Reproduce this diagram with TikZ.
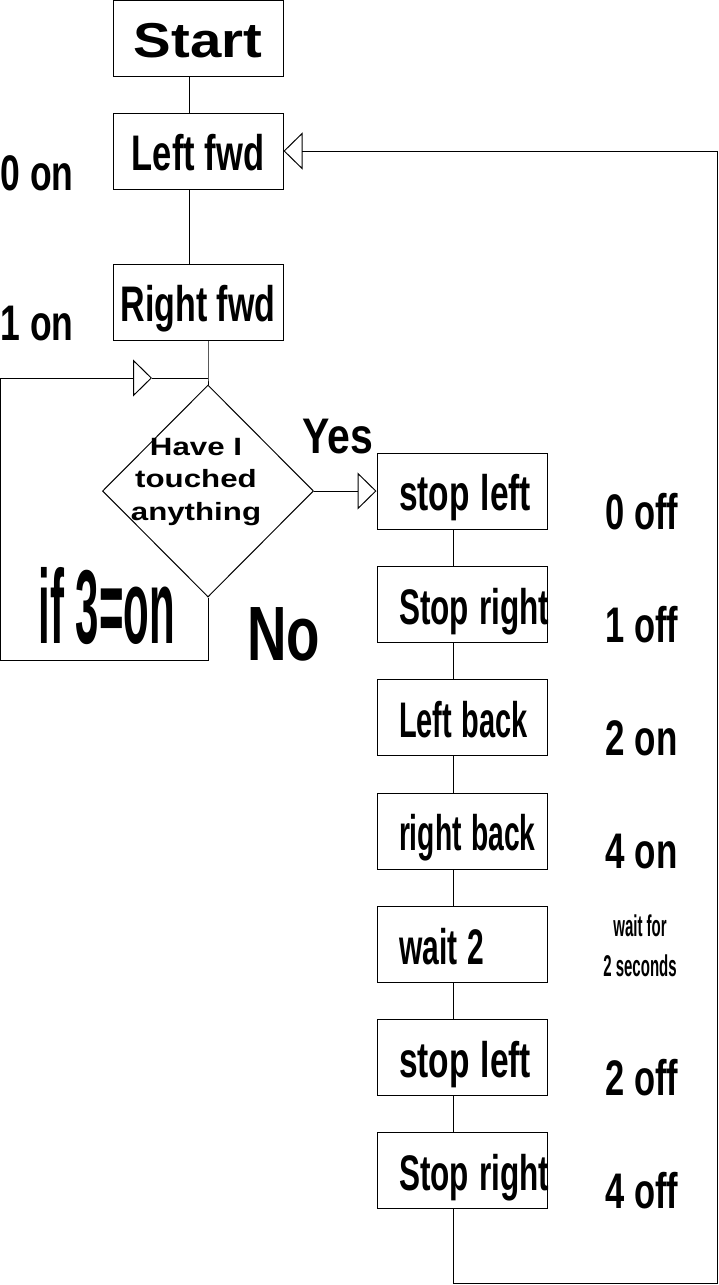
\documentclass[tikz,border=0pt]{standalone}
\usepackage{fontspec}
\setmainfont{Liberation Sans}
\usetikzlibrary{shapes.geometric, arrows.meta}
\newcommand{\narrowtxt}[2][0.69]{\scalebox{#1}[1]{#2}}
\newcommand{\widetxt}[1]{\scalebox{1.25}[1]{#1}}
\begin{document}
\begin{tikzpicture}[x=0.5pt, y=-0.5pt, line width=0.5pt,
	stepbox/.style={rectangle, draw, minimum width=85pt, minimum height=38pt, inner sep=0pt,
		text height=19.5pt, text depth=0pt, font=\fontsize{25}{30}\selectfont\bfseries},
	actbox/.style={stepbox, align=left, text width=63pt, inner xsep=11pt},
	note/.style={anchor=base west, inner sep=0pt, font=\fontsize{25}{30}\selectfont\bfseries},
	flow/.style={-{Triangle[open, length=9.5pt, width=18.5pt]}}]
		\useasboundingbox (0,0) rectangle (718,1285);
		
		\node[stepbox, font=\fontsize{24.5}{29}\selectfont\bfseries, text height=19pt]
		at (198,38.5) (start) {\scalebox{1.15}[1]{Start}};
		\node[stepbox] at (198,151) (lfwd) {\narrowtxt{Left fwd}};
		\node[stepbox] at (198,302) (rfwd) {\narrowtxt[0.68]{Right fwd}\hspace{3pt}};
		\node[note] at (0,190) (on0) {\narrowtxt[0.71]{0 on}};
		\node[note] at (0,340) (on1) {\narrowtxt[0.71]{1 on}};
		
		\draw ([xshift=-4.5pt]start.south) -- ([xshift=-4.5pt]lfwd.north);
		\draw ([xshift=-4.5pt]lfwd.south) -- ([xshift=-4.5pt]rfwd.north);
		
		\node[diamond, draw, minimum width=105.5pt, minimum height=106pt, inner sep=0pt]
		at (208,491) (ask) {};
		\node[align=center, font=\fontsize{12.5}{16.25}\selectfont\bfseries]
		at (196,482) (asktxt) {\widetxt{Have I}\\\widetxt{touched}\\\widetxt{anything}};
		\coordinate (jn) at (208,378);
		\coordinate (loopbr) at (208,660);
		\coordinate (loopbl) at (0.5,660);
		\coordinate (looptl) at (0.5,378);
		\coordinate (looptip) at (152,378);
		
		\draw ([xshift=5pt]rfwd.south) -- (jn) -- (ask.north);
		\draw[flow] (ask.south) -- (loopbr) -- (loopbl) -- (looptl) -- (looptip);
		\draw (looptip) -- (jn);
		
		\node[note] at (302,453) (yes) {\narrowtxt[0.82]{Yes}};
		\node[note, font=\fontsize{38.5}{46}\selectfont\bfseries] at (247,660) (no) {\narrowtxt[0.71]{No}};
		\node[note, font=\fontsize{52.5}{63}\selectfont\bfseries] at (38,643) (cond) {\narrowtxt[0.4]{if 3=on}};
		
		\node[actbox] at (462,491) (sl1) {\narrowtxt[0.67]{stop left}};
		\node[actbox] at (462,604.5) (sr1) {\narrowtxt[0.63]{Stop right}};
		\node[actbox] at (462,717.5) (lb) {\narrowtxt[0.58]{Left back}};
		\node[actbox] at (462,831) (rb) {\narrowtxt[0.565]{right back}};
		\node[actbox] at (462,944.5) (w2) {\narrowtxt[0.6]{wait 2}};
		\node[actbox] at (462,1057.5) (sl2) {\narrowtxt[0.67]{stop left}};
		\node[actbox] at (462,1170.5) (sr2) {\narrowtxt[0.63]{Stop right}};
		
		\draw[flow] (ask.east) -- (sl1.west);
		\draw ([xshift=-4.5pt]sl1.south) -- ([xshift=-4.5pt]sr1.north);
		\draw ([xshift=-4.5pt]sr1.south) -- ([xshift=-4.5pt]lb.north);
		\draw ([xshift=-4.5pt]lb.south) -- ([xshift=-4.5pt]rb.north);
		\draw ([xshift=-4.5pt]rb.south) -- ([xshift=-4.5pt]w2.north);
		\draw ([xshift=-4.5pt]w2.south) -- ([xshift=-4.5pt]sl2.north);
		\draw ([xshift=-4.5pt]sl2.south) -- ([xshift=-4.5pt]sr2.north);
		
		\node[note] at (605,529) (off0) {\narrowtxt{0 off}};
		\node[note] at (605,642) (off1) {\narrowtxt{1 off}};
		\node[note] at (605,755) (on2) {\narrowtxt[0.7]{2 on}};
		\node[note] at (605,868) (on4) {\narrowtxt[0.7]{4 on}};
		\node[align=center, font=\fontsize{15}{20}\selectfont\bfseries]
		at (640,946) (waitnote) {\narrowtxt[0.5]{wait for}\\\narrowtxt[0.5]{2 seconds}};
		\node[note] at (605,1095) (off2) {\narrowtxt{2 off}};
		\node[note] at (605,1208) (off4) {\narrowtxt{4 off}};
		
		\coordinate (retbl) at (453,1283);
		\coordinate (retbr) at (717,1283);
		\coordinate (rettr) at (717,151);
		\draw[flow] ([xshift=-4.5pt]sr2.south) -- (retbl) -- (retbr) -- (rettr) -- (lfwd.east);
\end{tikzpicture}
\end{document}
